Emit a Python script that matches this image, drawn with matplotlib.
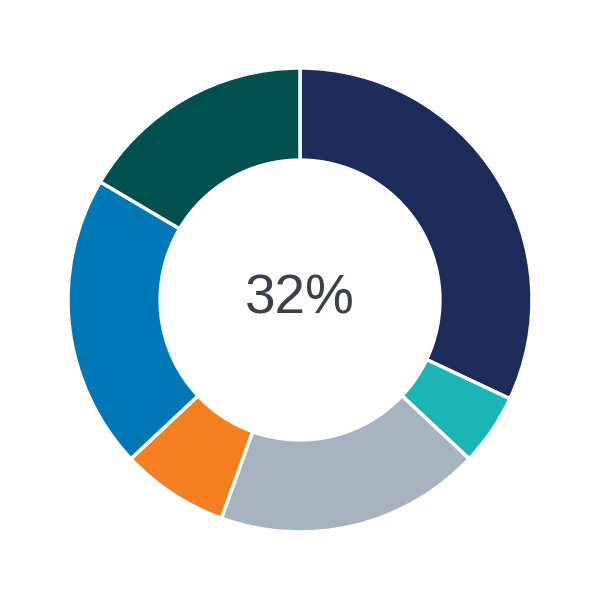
import matplotlib.pyplot as plt

# segment shares, clockwise from 12 o'clock
labels = ["A", "B", "C", "D", "E", "F"]
values = [32, 5, 18.5, 7.5, 20.5, 16.5]
colors = ["#1c2b5a", "#1cb5b6", "#a8b3c1", "#f47f20", "#0077b6", "#00504f"]
center_text = "32%"

fig = plt.figure(figsize=(6, 6), dpi=100)
ax = fig.add_axes([0, 0, 1, 1])

ax.pie(values, labels=None, colors=colors, startangle=90, counterclock=False,
       wedgeprops=dict(width=0.397, edgecolor="white", linewidth=2.5))
ax.text(0, 0, center_text, ha="center", va="center", fontsize=39.5,
        color="#3a404c", family="Liberation Sans")

lim = 300 / 232
ax.set_xlim(-lim, lim)
ax.set_ylim(-lim, lim)
ax.set_aspect("equal")
ax.axis("off")

fig.savefig("out.png", dpi=100, facecolor="white")
